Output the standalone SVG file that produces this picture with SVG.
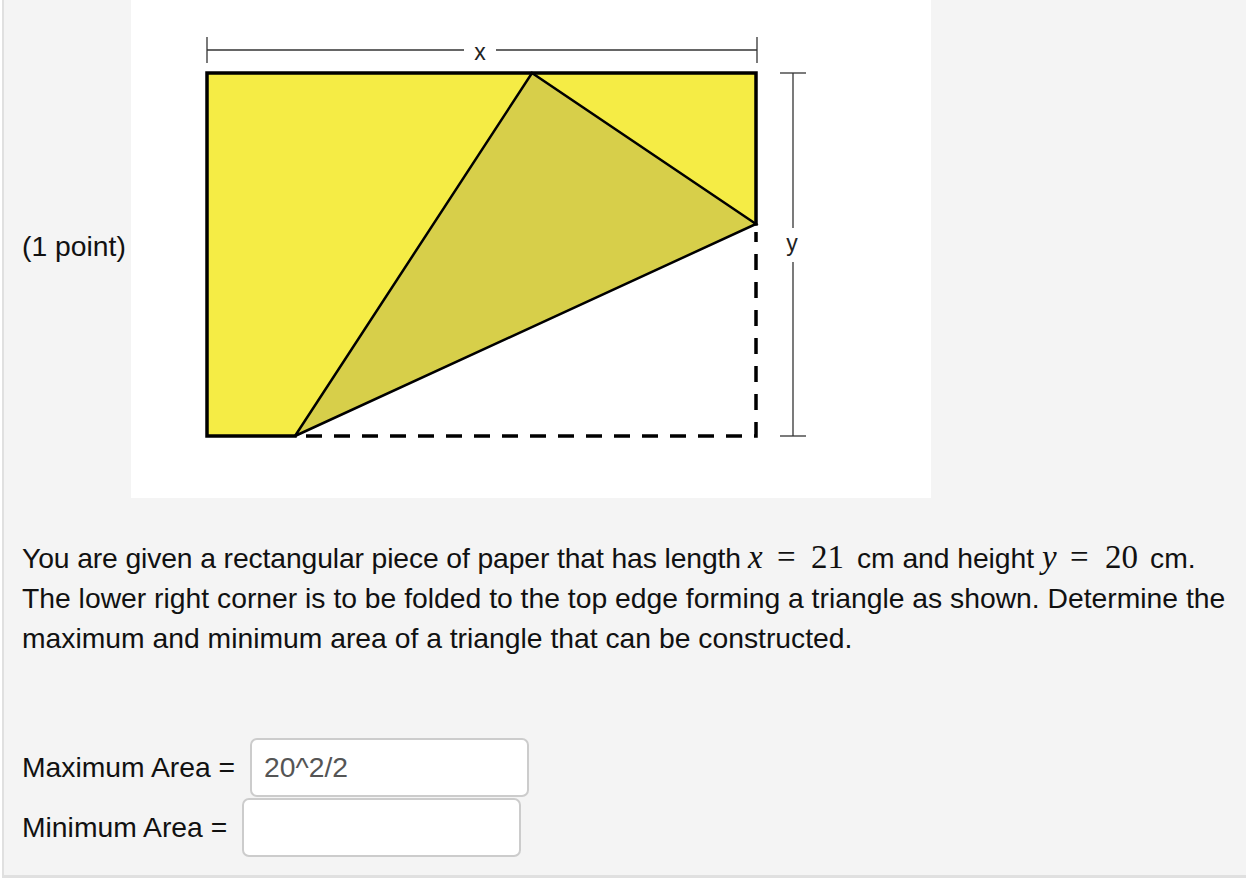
<svg xmlns="http://www.w3.org/2000/svg" width="1246" height="878" viewBox="0 0 1246 878">
<style>
.t{font-family:"Liberation Sans",Arial,sans-serif;font-size:28.3px;fill:#111}
.m{font-family:"Liberation Serif","Times New Roman",serif;font-size:33px;fill:#111}
.mi{font-style:italic}
.lbl{font-family:"Liberation Sans",Arial,sans-serif;font-size:23px;fill:#222}
.dim{stroke:#333;stroke-width:1.3;fill:none}
.edge{stroke:#000;stroke-width:3.5;fill:none;stroke-linecap:square}
.fold{stroke:#000;stroke-width:2.5;fill:none}
.dash{stroke:#000;stroke-width:3.5;fill:none;stroke-dasharray:16 12}
.box{fill:#fff;stroke:#ccc;stroke-width:2}
</style>
<rect x="0" y="0" width="1246" height="878" fill="#fff"/>
<rect x="2" y="0" width="1244" height="877" fill="#f4f4f4"/>
<rect x="2" y="0" width="2" height="877" fill="#e0e0e0"/>
<rect x="2" y="875" width="1244" height="3" fill="#e0e0e0"/>
<g id="figure">
<rect x="131" y="0" width="800" height="498" fill="#fff"/>
<g id="paper">
<polygon points="207,73 532,73 295,436 207,436" fill="#f5ec45"/>
<polygon points="532,73 756,73 756,224" fill="#f5ec45"/>
<polygon points="532,73 756,224 295,436" fill="#d7cf4a"/>
<polyline class="edge" points="295,436 207,436 207,73 756,73 756,224"/>
<polyline class="fold" points="295,436 532,73 756,224 295,436"/>
<polyline class="dash" points="306,436 756,436 756,232"/>
</g>
<g id="dim-x">
<line class="dim" x1="207" y1="50" x2="464" y2="50"/>
<line class="dim" x1="496" y1="50" x2="757" y2="50"/>
<line class="dim" x1="207" y1="37" x2="207" y2="63"/>
<line class="dim" x1="757" y1="37" x2="757" y2="63"/>
<text class="lbl" x="480" y="60" text-anchor="middle">x</text>
</g>
<g id="dim-y">
<line class="dim" x1="793" y1="73" x2="793" y2="228"/>
<line class="dim" x1="793" y1="262" x2="793" y2="436"/>
<line class="dim" x1="780" y1="73" x2="806" y2="73"/>
<line class="dim" x1="780" y1="436" x2="806" y2="436"/>
<text class="lbl" x="792" y="251" text-anchor="middle">y</text>
</g>
</g>
<g id="point">
<text class="t" x="22" y="256">(1 point)</text>
</g>
<g id="question">
<text class="t" x="22" y="568" textLength="719" lengthAdjust="spacing">You are given a rectangular piece of paper that has length</text>
<text class="m mi" x="748" y="568">x</text>
<text class="m" x="777" y="568">=</text>
<text class="m" x="811" y="568">21</text>
<text class="t" x="857" y="568" textLength="177" lengthAdjust="spacing">cm and height</text>
<text class="m mi" x="1042" y="568">y</text>
<text class="m" x="1070" y="568">=</text>
<text class="m" x="1105" y="568">20</text>
<text class="t" x="1150" y="568">cm.</text>
<text class="t" x="22" y="608">The lower right corner is to be folded to the top edge forming a triangle as shown. Determine the</text>
<text class="t" x="22" y="648">maximum and minimum area of a triangle that can be constructed.</text>
</g>
<g id="max">
<text class="t" x="22" y="777">Maximum Area =</text>
<rect class="box" x="251" y="739" width="277" height="57" rx="6"/>
<text class="t" x="264" y="777" style="fill:#555">20^2/2</text>
</g>
<g id="min">
<text class="t" x="22" y="837">Minimum Area =</text>
<rect class="box" x="243" y="799" width="277" height="57" rx="6"/>
</g>
</svg>
